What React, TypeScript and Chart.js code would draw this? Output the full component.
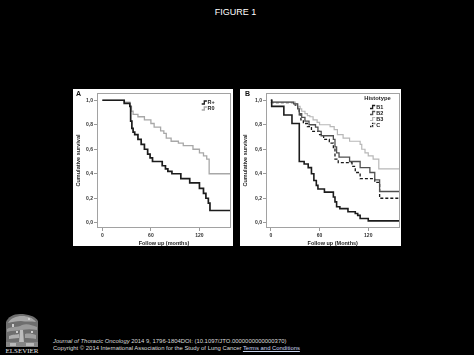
import React, { useEffect, useRef } from "react";
import { Chart, registerables } from "chart.js";

Chart.register(...registerables);

// ---------- tick labels ----------
const xTickValues = [0, 60, 120];
const yTickValues = [0, 0.2, 0.4, 0.6, 0.8, 1.0];
const yTickLabels = ["0,0", "0,2", "0,4", "0,6", "0,8", "1,0"];

// ---------- Panel A ----------
const rPlusMonths = [0, 27, 34, 35, 36.5, 38, 40, 44, 48, 52, 56, 59, 62, 74, 78, 81, 86, 97, 108, 120, 125, 128, 131, 133, 159];
const rPlusSurvival = [1, 0.975, 0.95, 0.83, 0.77, 0.74, 0.72, 0.68, 0.64, 0.6, 0.56, 0.53, 0.5, 0.465, 0.44, 0.42, 0.4, 0.36, 0.325, 0.28, 0.24, 0.2, 0.16, 0.1, 0.1];
const r0Months = [0, 27, 34, 36, 38, 44, 52, 60, 64, 72, 76, 79, 85, 94, 100, 112, 120, 125, 129, 132, 159];
const r0Survival = [1, 0.985, 0.95, 0.91, 0.885, 0.865, 0.84, 0.81, 0.78, 0.75, 0.73, 0.69, 0.665, 0.65, 0.63, 0.6, 0.57, 0.545, 0.52, 0.4, 0.4];

// ---------- Panel B ----------
const b1Months = [0, 1, 16, 26, 35, 41, 46, 50, 53, 56, 58, 66, 77, 79, 81, 85, 95, 104, 107, 110, 120, 158.5];
const b1Survival = [1, 0.95, 0.88, 0.81, 0.5, 0.48, 0.45, 0.4, 0.345, 0.305, 0.275, 0.25, 0.21, 0.17, 0.13, 0.115, 0.09, 0.075, 0.06, 0.035, 0.015, 0.015];
const b2Months = [0, 1, 28, 33, 35, 38, 42, 47, 55, 58, 62, 77, 79, 81, 84, 97, 110, 122, 128, 134, 158.5];
const b2Survival = [1, 0.985, 0.97, 0.93, 0.89, 0.86, 0.83, 0.8, 0.78, 0.745, 0.71, 0.68, 0.62, 0.57, 0.535, 0.5, 0.45, 0.41, 0.35, 0.255, 0.255];
const b3Months = [0, 1, 30, 33, 36, 38, 42, 45, 48, 52, 57, 60, 73, 78, 82, 89, 97, 110, 112, 116, 120, 126, 133, 158.5];
const b3Survival = [1, 0.985, 0.97, 0.95, 0.93, 0.91, 0.89, 0.875, 0.865, 0.84, 0.82, 0.8, 0.785, 0.76, 0.72, 0.69, 0.665, 0.64, 0.6, 0.57, 0.545, 0.52, 0.44, 0.44];
const cMonths = [0, 30, 33, 35, 37, 40, 45, 50, 60, 65, 72, 77, 79, 83, 100, 104, 110, 128, 134, 158.5];
const cSurvival = [0.98, 0.96, 0.92, 0.88, 0.84, 0.81, 0.785, 0.745, 0.72, 0.68, 0.65, 0.6, 0.52, 0.49, 0.46, 0.41, 0.36, 0.33, 0.2, 0.2];

const FONT = '"Liberation Sans", Arial, sans-serif';
const FRAME = "#a2a2a2";

type Series = { label: string; months: number[]; survival: number[]; color: string; width: number; dash: number[] };

type Panel = {
  width: number;
  height: number;
  xMin: number;
  xMax: number;
  yAxisWidth: number;
  rightPad: number;
  xTitle: string;
  yTitlePad: number;
  letter: string;
  letterX: number;
  legendTitle: string;
  legendTitleX: number;
  legendTitleY: number;
  iconX: number;
  textX: number;
  rowY: number[];
  series: Series[];
};

const panelA: Panel = {
  width: 160,
  height: 157,
  xMin: -6.6,
  xMax: 159,
  yAxisWidth: 24,
  rightPad: 2,
  xTitle: "Follow up (months)",
  yTitlePad: 2.5,
  letter: "A",
  letterX: 3,
  legendTitle: "",
  legendTitleX: 0,
  legendTitleY: 0,
  iconX: 128.7,
  textX: 134.5,
  rowY: [13.5, 19.5],
  series: [
    { label: "R+", months: rPlusMonths, survival: rPlusSurvival, color: "#1c1c1c", width: 1.7, dash: [] },
    { label: "R0", months: r0Months, survival: r0Survival, color: "#a8a8a8", width: 1.3, dash: [] },
  ],
};

const panelB: Panel = {
  width: 161,
  height: 157,
  xMin: -6,
  xMax: 158.5,
  yAxisWidth: 26,
  rightPad: 1.5,
  xTitle: "Follow up (Months)",
  yTitlePad: 2.3,
  letter: "B",
  letterX: 5,
  legendTitle: "Histotype",
  legendTitleX: 137.5,
  legendTitleY: 9,
  iconX: 130,
  textX: 136.3,
  rowY: [18, 24, 30, 36],
  series: [
    { label: "B1", months: b1Months, survival: b1Survival, color: "#1c1c1c", width: 1.6, dash: [] },
    { label: "B2", months: b2Months, survival: b2Survival, color: "#505050", width: 1.3, dash: [] },
    { label: "B3", months: b3Months, survival: b3Survival, color: "#b8b8b8", width: 1.2, dash: [] },
    { label: "C", months: cMonths, survival: cSurvival, color: "#1a1a1a", width: 1.3, dash: [3, 2] },
  ],
};

function decorPlugin(p: Panel) {
  return {
    id: "panelDecor",
    afterDatasetsDraw(chart: any) {
      const ctx: CanvasRenderingContext2D = chart.ctx;
      const a = chart.chartArea;
      ctx.save();
      // frame
      ctx.strokeStyle = FRAME;
      ctx.lineWidth = 1;
      ctx.setLineDash([]);
      const l = Math.round(a.left);
      const t = Math.round(a.top);
      const r = Math.round(a.right);
      const b = Math.round(a.bottom);
      ctx.strokeRect(l + 0.5, t + 0.5, r - l - 1, b - t - 1);
      // panel letter
      ctx.fillStyle = "#111";
      ctx.font = `bold 7px ${FONT}`;
      ctx.textBaseline = "middle";
      ctx.textAlign = "left";
      ctx.fillText(p.letter, p.letterX, 5.3);
      // legend title
      if (p.legendTitle) {
        ctx.font = `bold 5.8px ${FONT}`;
        ctx.textAlign = "center";
        ctx.fillStyle = "#222";
        ctx.fillText(p.legendTitle, p.legendTitleX, p.legendTitleY);
      }
      // legend entries from datasets
      chart.data.datasets.forEach((ds: any, i: number) => {
        const y = p.rowY[i];
        ctx.strokeStyle = ds.borderColor;
        ctx.lineWidth = Math.min(ds.borderWidth, 1.3);
        ctx.setLineDash(ds.borderDash && ds.borderDash.length ? [1.5, 1] : []);
        ctx.beginPath();
        ctx.moveTo(p.iconX, y + 1.5);
        ctx.lineTo(p.iconX + 2.6, y + 1.5);
        ctx.lineTo(p.iconX + 2.6, y - 1.5);
        ctx.lineTo(p.iconX + 5.2, y - 1.5);
        ctx.stroke();
        ctx.setLineDash([]);
        ctx.fillStyle = "#222";
        ctx.font = `bold 5.5px ${FONT}`;
        ctx.textAlign = "left";
        ctx.textBaseline = "middle";
        ctx.fillText(ds.label, p.textX, y);
      });
      ctx.restore();
    },
  };
}

function buildPanel(canvas: HTMLCanvasElement, p: Panel) {
  const tickFont = { family: FONT, size: 5, weight: "bold" as const };
  const titleFont = { family: FONT, size: 5.5, weight: "bold" as const, lineHeight: 1 };
  return new Chart(canvas, {
    type: "line",
    data: {
      datasets: p.series.map((s) => ({
        label: s.label,
        data: s.months.map((m, i) => ({ x: m, y: s.survival[i] })),
        borderColor: s.color,
        backgroundColor: s.color,
        borderWidth: s.width,
        borderDash: s.dash,
        stepped: true,
        pointRadius: 0,
        fill: false,
        tension: 0,
      })),
    },
    options: {
      responsive: false,
      animation: false,
      events: [],
      layout: { padding: { top: 2, right: p.rightPad, bottom: 0, left: 0 }, autoPadding: false },
      plugins: { legend: { display: false }, tooltip: { enabled: false }, title: { display: false } },
      scales: {
        x: {
          type: "linear",
          position: "bottom",
          min: p.xMin,
          max: p.xMax,
          afterBuildTicks: (s: any) => {
            s.ticks = xTickValues.map((v) => ({ value: v }));
          },
          afterFit: (s: any) => {
            s.height = 18;
          },
          grid: { display: true, drawOnChartArea: false, drawTicks: true, tickLength: 3, color: "#9a9a9a", lineWidth: 1 },
          border: { display: false },
          ticks: { font: tickFont, color: "#333", padding: 2, maxRotation: 0, autoSkip: false },
          title: { display: true, text: p.xTitle, font: titleFont, color: "#222", padding: { top: 0, bottom: 0 } },
        },
        y: {
          type: "linear",
          position: "left",
          min: -0.043,
          max: 1.059,
          afterBuildTicks: (s: any) => {
            s.ticks = yTickValues.map((v) => ({ value: v }));
          },
          afterFit: (s: any) => {
            s.width = p.yAxisWidth;
          },
          grid: { display: true, drawOnChartArea: false, drawTicks: true, tickLength: 3, color: "#9a9a9a", lineWidth: 1 },
          border: { display: false },
          ticks: {
            font: tickFont,
            color: "#333",
            padding: 1,
            autoSkip: false,
            callback: (_v: any, i: number) => yTickLabels[i],
          },
          title: { display: true, text: "Cumulative survival", font: titleFont, color: "#222", padding: { top: p.yTitlePad, bottom: 0 } },
        },
      },
    },
    plugins: [decorPlugin(p)],
  } as any);
}

function ElsevierLogo() {
  return (
    <svg width={36} height={36} viewBox="0 0 36 36" style={{ position: "absolute", left: 4, top: 312 }}>
      <path d="M2 30 L2 10 C4 5 9 2 16 2 C24 2 31 4 34 9 L34 30 Z" fill="#6e6e6e" />
      <path d="M4 11 C7 6 12 4 18 4 C24 4 29 6 32 10 C27 9 22 10 17 9 C12 9 8 10 4 11 Z" fill="#a8a8a8" />
      <path d="M3 17 C8 14 13 16 18 13 C23 11 28 13 33 15 L33 18 C28 17 23 17 18 18 C13 19 8 18 3 20 Z" fill="#9a9a9a" />
      <path d="M5 24 C9 22 12 23 15 22 L15 26 C11 26 8 27 5 27 Z" fill="#b0b0b0" />
      <path d="M21 22 C25 21 29 22 32 23 L32 27 C28 26 24 26 21 26 Z" fill="#a0a0a0" />
      <path d="M16 18 L19 18 L20 31 L15 31 Z" fill="#bdbdbd" />
      <path d="M8 12 L10 12 L10 15 L8 15 Z M24 6 L26 6 L26 8 L24 8 Z M12 19 L14 19 L14 21 L12 21 Z M27 19 L29 19 L29 21 L27 21 Z" fill="#cfcfcf" />
      <path d="M2 30 L34 30 L34 35 L2 35 Z" fill="#858585" />
      <path d="M6 31 L12 31 L12 34 L6 34 Z M22 31 L30 31 L30 34 L22 34 Z" fill="#b8b8b8" />
    </svg>
  );
}

export default function App() {
  const refA = useRef<HTMLCanvasElement>(null);
  const refB = useRef<HTMLCanvasElement>(null);

  useEffect(() => {
    const ca = buildPanel(refA.current as HTMLCanvasElement, panelA);
    const cb = buildPanel(refB.current as HTMLCanvasElement, panelB);
    return () => {
      ca.destroy();
      cb.destroy();
    };
  }, []);

  return (
    <div
      style={{
        position: "fixed",
        left: 0,
        top: 0,
        width: 474,
        height: 355,
        background: "#000",
        overflow: "hidden",
        fontFamily: FONT,
      }}
    >
      <div
        style={{
          position: "absolute",
          left: 0,
          top: 7,
          width: 471,
          textAlign: "center",
          color: "#fff",
          fontSize: 9,
          lineHeight: "11px",
        }}
      >
        FIGURE 1
      </div>

      <div style={{ position: "absolute", left: 73, top: 89, width: panelA.width, height: panelA.height, background: "#fff" }}>
        <canvas ref={refA} width={panelA.width} height={panelA.height} style={{ display: "block", width: panelA.width, height: panelA.height }} />
      </div>
      <div style={{ position: "absolute", left: 240, top: 89, width: panelB.width, height: panelB.height, background: "#fff" }}>
        <canvas ref={refB} width={panelB.width} height={panelB.height} style={{ display: "block", width: panelB.width, height: panelB.height }} />
      </div>

      <ElsevierLogo />
      <div
        style={{
          position: "absolute",
          left: 3,
          top: 347,
          width: 38,
          textAlign: "center",
          color: "#e6e6e6",
          fontFamily: '"Liberation Serif", "Times New Roman", serif',
          fontSize: 7,
          lineHeight: "8px",
        }}
      >
        ELSEVIER
      </div>

      <div
        style={{
          position: "absolute",
          left: 53,
          top: 337.8,
          color: "#dcdcdc",
          fontSize: 5.9,
          lineHeight: "7px",
          whiteSpace: "nowrap",
        }}
      >
        <i>Journal of Thoracic Oncology</i> 2014 9, 1796-1804DOI: (10.1097/JTO.0000000000000370)
      </div>
      <div
        style={{
          position: "absolute",
          left: 53,
          top: 345.2,
          color: "#dcdcdc",
          fontSize: 5.9,
          lineHeight: "7px",
          whiteSpace: "nowrap",
        }}
      >
        Copyright © 2014 International Association for the Study of Lung Cancer{" "}
        <span style={{ textDecoration: "underline", color: "#c8d4ee" }}>Terms and Conditions</span>
      </div>
    </div>
  );
}
